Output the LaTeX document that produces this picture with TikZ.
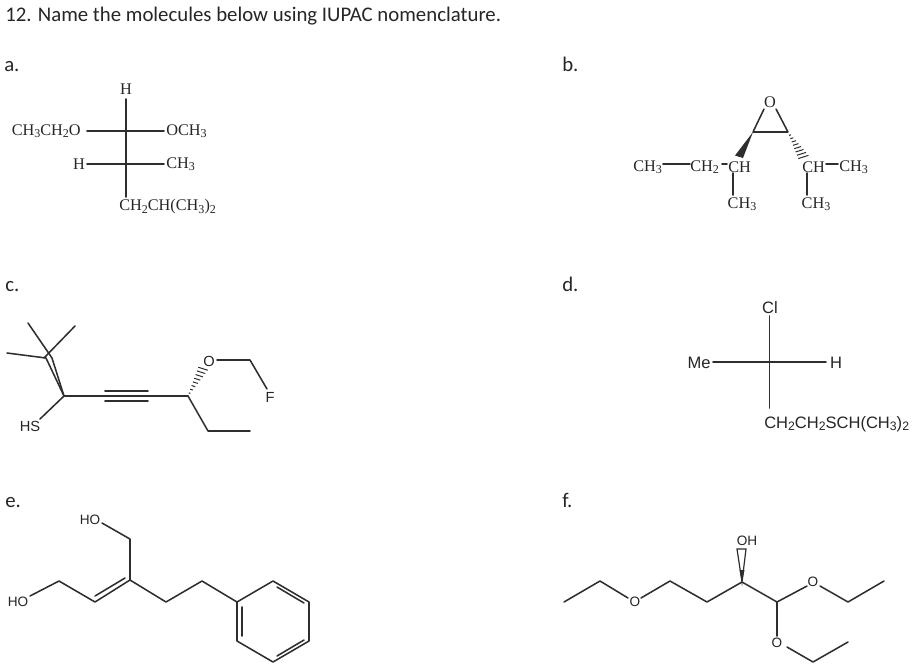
\documentclass[tikz,border=0pt]{standalone}
\usepackage{fontspec}
\usetikzlibrary{calc}
\setmainfont{Liberation Serif}
\newfontfamily\hdfont{Carlito}
\newfontfamily\sansf{Liberation Sans}
\newcommand{\dn}[1]{\raisebox{-0.3ex}{\scalebox{.74}{#1}}}
\tikzset{
  bond/.style={draw=black!82,line width=1.15pt,line cap=round,line join=round},
  heading/.style={font=\hdfont\fontsize{15.6pt}{17pt}\selectfont,text=black!85,inner sep=0pt,anchor=base west},
  ser/.style={font=\fontsize{12.2pt}{14pt}\selectfont,text=black!85,inner sep=0pt},
  san/.style={font=\sansf\fontsize{10.2pt}{12pt}\selectfont,text=black!85,inner sep=0pt},
  sanc/.style={font=\sansf\fontsize{11pt}{12pt}\selectfont,text=black!85,inner sep=0pt},
  sanb/.style={font=\sansf\fontsize{12.4pt}{14pt}\selectfont,text=black!85,inner sep=0pt},
}
\begin{document}
\begin{tikzpicture}[x=0.75pt,y=-0.75pt]
\useasboundingbox (0,0) rectangle (913,668);
\fill[white] (0,0) rectangle (913,668);
% headings
\node[heading] (title) at (5,21) {12. Name the molecules below using IUPAC nomenclature.};
\node[heading] (la) at (4,71) {a.};
\node[heading] (lb) at (562,71) {b.};
\node[heading] (lc) at (5,291) {c.};
\node[heading] (ld) at (562,291) {d.};
\node[heading] (le) at (5,507) {e.};
\node[heading] (lf) at (562,507) {f.};
% --- a
\node[ser] (aH1) at (126,89) {H};
\node[ser,anchor=east] (aL) at (81,131) {CH\dn{3}CH\dn{2}O};
\node[ser,anchor=west] (aR) at (166,131) {OCH\dn{3}};
\node[ser] (aH2) at (79,164) {H};
\node[ser,anchor=west] (aR2) at (166,164) {CH\dn{3}};
\node[ser,anchor=west] (aB) at (119,207) {CH\dn{2}CH(CH\dn{3})\dn{2}};
\coordinate (a1) at (126,99); \coordinate (a2) at (126,197);
\coordinate (a3) at (87,131); \coordinate (a4) at (164,131);
\coordinate (a5) at (87,164); \coordinate (a6) at (164,164);
\draw[bond] (a1)--(a2); \draw[bond] (a3)--(a4); \draw[bond] (a5)--(a6);
% --- b
\node[ser] (bO) at (770,102) {O};
\node[ser,anchor=west] (bC1) at (633,167) {CH\dn{3}};
\node[ser,anchor=west] (bC2) at (690,167) {CH\dn{2}};
\node[ser,anchor=west] (bC3) at (728,167) {CH};
\node[ser] (bC4) at (742,204) {CH\dn{3}};
\node[ser,anchor=west] (bC5) at (802,167) {CH};
\node[ser,anchor=west] (bC6) at (839,167) {CH\dn{3}};
\node[ser] (bC7) at (816,204) {CH\dn{3}};
\coordinate (bL) at (753,132); \coordinate (bR) at (788,132);
\coordinate (bW1) at (735,155.5); \coordinate (bW2) at (743,158);
\coordinate (bH) at (804,158);
\coordinate (bOl) at (764,109); \coordinate (bOr) at (776,109);
\draw[bond] (bOl)--(bL)--(bR)--(bOr);
\fill[black!82] (bL)--(bW1)--(bW2)--cycle;
\foreach \t/\w in {.12/1,.24/1.6,.36/2.2,.48/2.9,.6/3.5,.72/4.2,.84/4.8,.96/5.4}{
  \draw[draw=black!82,line width=0.75pt] ($(bR)!\t!(bH)+(-\w*.95,\w*.3)$)--($(bR)!\t!(bH)+(\w*.95,-\w*.3)$);
}
\coordinate (b1) at (663,164); \coordinate (b2) at (690,164);
\coordinate (b3) at (722,164); \coordinate (b4) at (727,164);
\coordinate (b5) at (826,164); \coordinate (b6) at (838,164);
\coordinate (b7) at (733,173); \coordinate (b8) at (733,195);
\coordinate (b9) at (807,173); \coordinate (b10) at (807,195);
\draw[bond] (b1)--(b2); \draw[bond] (b3)--(b4); \draw[bond] (b5)--(b6);
\draw[bond] (b7)--(b8); \draw[bond] (b9)--(b10);
% --- c
\node[sanc] (cHS) at (30,426) {HS};
\node[sanc] (cO) at (209,361) {O};
\node[sanc] (cF) at (270,397) {F};
\coordinate (cA) at (28,323); \coordinate (cB) at (75,326); \coordinate (cD) at (7,353);
\coordinate (cM) at (46,358); \coordinate (cM2) at (52,358);
\coordinate (cQ) at (64,396);
\coordinate (cS) at (188,396); \coordinate (cOh) at (204,367);
\coordinate (cOe) at (217,360); \coordinate (cFe) at (267,389); \coordinate (cHe) at (40,419);
\coordinate (c1) at (250,360); \coordinate (c2) at (208,431); \coordinate (c3) at (250,431);
\coordinate (t1) at (105,391); \coordinate (t2) at (148,391);
\coordinate (t3) at (105,401); \coordinate (t4) at (148,401);
\draw[bond] (cA)--(cM2)--(cQ);
\draw[bond] (cB)--(44,358);
\draw[bond] (cD)--(cM)--(cQ);
\draw[bond] (cQ)--(cS);
\draw[bond] (t1)--(t2);
\draw[bond] (t3)--(t4);
\draw[bond] (cS)--(c2)--(c3);
\draw[bond] (cQ)--(cHe);
\draw[bond] (cOe)--(c1)--(cFe);
\foreach \t/\w in {.1/.8,.22/1.4,.34/2,.46/2.6,.58/3.2,.7/3.8,.82/4.4,.94/5}{
  \draw[draw=black!82,line width=0.75pt] ($(cS)!\t!(cOh)+(-\w*.95,-\w*.3)$)--($(cS)!\t!(cOh)+(\w*.95,\w*.3)$);
}
% --- d
\node[sanb] (dCl) at (770,308) {Cl};
\node[sanb] (dMe) at (699,363) {Me};
\node[sanb] (dH) at (836,363) {H};
\node[sanb,anchor=west] (dB) at (764,424) {CH\dn{2}CH\dn{2}SCH(CH\dn{3})\dn{2}};
\coordinate (d1) at (769.5,316); \coordinate (d2) at (769.5,408);
\coordinate (d3) at (713,362); \coordinate (d4) at (826,362);
\draw[bond] (d1)--(d2); \draw[bond] (d3)--(d4);
% --- e
\node[san] (eO1) at (90,520) {HO};
\node[san] (eO2) at (18,602) {HO};
\coordinate (e0) at (102,523); \coordinate (e7) at (30,596);
\coordinate (e1) at (130,539); \coordinate (e2) at (130,580); \coordinate (e3) at (95,602);
\coordinate (e4) at (59,581); \coordinate (e5) at (166,602); \coordinate (e6) at (202,581);
\coordinate (e8) at (95,596); \coordinate (e9) at (125,578);
\coordinate (r1) at (237,602); \coordinate (r2) at (273,581); \coordinate (r3) at (309,602);
\coordinate (r4) at (309,641); \coordinate (r5) at (273,662); \coordinate (r6) at (237,641);
\draw[bond] (e0)--(e1)--(e2)--(e3)--(e4)--(e7);
\draw[bond] (e8)--(e9);
\draw[bond] (e2)--(e5)--(e6)--(r1);
\draw[bond] (r1)--(r2)--(r3)--(r4)--(r5)--(r6)--cycle;
\coordinate (i1) at (242,607); \coordinate (i2) at (242,636);
\coordinate (i3) at (277,587); \coordinate (i4) at (304,603);
\coordinate (i5) at (304,640); \coordinate (i6) at (277,656);
\draw[bond] (i1)--(i2);
\draw[bond] (i3)--(i4);
\draw[bond] (i5)--(i6);
% --- f
\node[san] (fO1) at (635,602) {O};
\node[san] (fOH) at (747,541) {OH};
\node[san] (fO2) at (813,582) {O};
\node[san] (fO3) at (777,643) {O};
\coordinate (f1) at (564,602); \coordinate (f2) at (600,581); \coordinate (f3) at (670,581);
\coordinate (f4) at (707,602); \coordinate (f5) at (742,582); \coordinate (f6) at (777,602);
\coordinate (f7) at (848,602); \coordinate (f8) at (884,581);
\coordinate (f9) at (813,662); \coordinate (f10) at (848,642);
\coordinate (fW1) at (737,549); \coordinate (fW2) at (746,549);
\coordinate (fa) at (628,598); \coordinate (fb) at (641,598);
\coordinate (fc) at (807,586); \coordinate (fd) at (820,586);
\coordinate (fe) at (777,636); \coordinate (ff) at (787,647);
\draw[bond] (f1)--(f2)--(fa);
\draw[bond] (fb)--(f3)--(f4)--(f5)--(f6)--(fc);
\draw[bond] (fd)--(f7)--(f8);
\draw[bond] (f6)--(fe);
\draw[bond] (ff)--(f9)--(f10);
\draw[draw=black!82,line width=0.9pt,fill=white] (f5)--(fW1)--(fW2)--cycle;
\fill[black!82] (f5)--(739.5,570)--(744.5,570)--cycle;
\end{tikzpicture}
\end{document}
